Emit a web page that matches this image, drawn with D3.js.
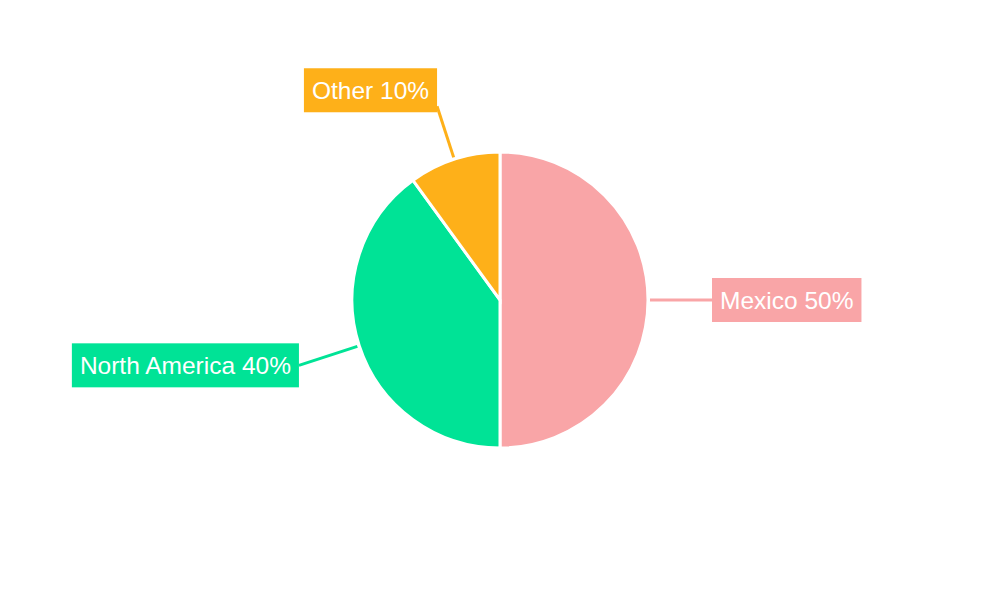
<!DOCTYPE html>
<html>
<head>
  <meta charset="utf-8">
  <script src="https://d3js.org/d3.v7.min.js"></script>
  <style>
    body { margin: 0; background: #fff; }
    text { font-family: "Liberation Sans", Arial, sans-serif; }
  </style>
</head>
<body>
<script>
  // chart data
  var categories = ["Mexico", "North America", "Other"];
  var shares = [50, 40, 10];
  var colours = ["#F9A5A7", "#00E396", "#FEB019"];

  var width = 1000, height = 600,
      cx = 500, cy = 300, radius = 148;

  var svg = d3.select("body").append("svg")
      .attr("width", width)
      .attr("height", height);

  var data = categories.map(function (c, i) {
    return { name: c, value: shares[i], colour: colours[i] };
  });

  var pie = d3.pie().sort(null).value(function (d) { return d.value; });
  var arc = d3.arc().innerRadius(0).outerRadius(radius);
  var arcs = pie(data);

  var g = svg.append("g").attr("transform", "translate(" + cx + "," + cy + ")");

  g.selectAll("path.slice")
    .data(arcs)
    .enter().append("path")
      .attr("class", "slice")
      .attr("d", arc)
      .attr("fill", function (d) { return d.data.colour; })
      .attr("stroke", "#fff")
      .attr("stroke-width", 3);

  // labels with leader lines
  arcs.forEach(function (d) {
    var a = (d.startAngle + d.endAngle) / 2;
    var sx = Math.sin(a), sy = -Math.cos(a);
    var len = 52 + 12 * Math.abs(sx);
    var r0 = radius + 2, r1 = radius + len;
    var x0 = sx * r0, y0 = sy * r0, x1 = sx * r1, y1 = sy * r1;

    g.append("line")
      .attr("x1", x0).attr("y1", y0)
      .attr("x2", x1).attr("y2", y1)
      .attr("stroke", d.data.colour)
      .attr("stroke-width", 3);

    var lab = g.append("g");
    var rect = lab.append("rect").attr("fill", d.data.colour);
    var txt = lab.append("text")
      .attr("fill", "#fff")
      .style("font-size", "24.5px")
      .attr("dominant-baseline", "central")
      .text(d.data.name + " " + d.data.value + "%");

    var pad = 8, bh = 44;
    var tw = txt.node().getComputedTextLength();
    var bw = tw + pad * 2;
    var bx = x1 >= 0 ? x1 : x1 - bw;
    var by = Math.abs(sy) > 2 * Math.abs(sx) ? y1 + 6 - bh : y1 - bh / 2;
    rect.attr("x", bx).attr("y", by).attr("width", bw).attr("height", bh);
    txt.attr("x", bx + pad).attr("y", by + bh / 2);
  });
</script>
</body>
</html>
